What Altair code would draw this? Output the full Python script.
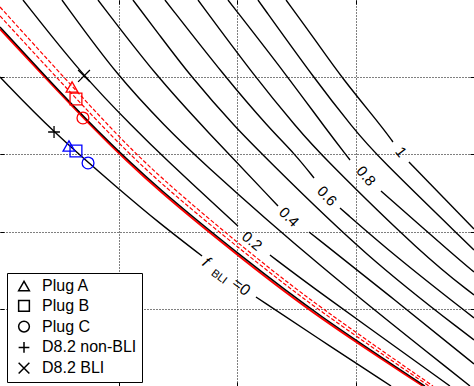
import altair as alt
import pandas as pd

# ---------------- data (axis units: x 0..4, y 0..5) -------------
# contour lines of f_BLI; *_s marks the piece of the line (lines are broken at labels)
f00_x = [0.000, 0.447, 1.013, 1.333, 1.705, 2.160, 2.667, 3.300]
f00_y = [4.003, 3.290, 2.539, 2.124, 1.684, 1.153, 0.635, 0.000]
f00_s = [0, 0, 0, 0, 0, 1, 1, 1]

f01_x = [0.000, 0.388, 0.802, 1.333, 2.076, 2.667, 3.586]
f01_y = [4.650, 4.003, 3.329, 2.552, 1.632, 0.933, 0.000]
f01_s = [0, 0, 0, 0, 0, 0, 0]

f02_x = [0.194, 0.700, 1.139, 1.350, 2.008, 2.278, 2.667, 3.797]
f02_y = [5.000, 4.016, 3.329, 3.005, 2.073, 1.697, 1.244, 0.000]
f02_s = [0, 0, 0, 0, 0, 1, 1, 1]

f03_x = [0.523, 0.996, 1.418, 1.629, 2.667, 3.966]
f03_y = [5.000, 4.003, 3.329, 3.005, 1.580, 0.000]
f03_s = [0, 0, 0, 0, 0, 0]

f04_x = [0.827, 1.325, 1.730, 2.346, 2.608, 3.291, 4.000]
f04_y = [5.000, 4.003, 3.329, 2.332, 1.995, 1.166, 0.285]
f04_s = [0, 0, 0, 0, 1, 1, 1]

f05_x = [1.122, 1.333, 1.612, 2.000, 2.211, 3.089, 4.000]
f05_y = [5.000, 4.573, 4.003, 3.329, 3.005, 1.671, 0.596]
f05_s = [0, 0, 0, 0, 0, 0, 0]

f06_x = [1.392, 1.899, 2.278, 2.489, 2.650, 2.869, 3.342, 4.000]
f06_y = [5.000, 4.003, 3.329, 3.005, 2.694, 2.306, 1.671, 0.881]
f06_s = [0, 0, 0, 0, 0, 1, 1, 1]

f07_x = [1.671, 2.152, 2.515, 2.700, 3.586, 4.000]
f07_y = [5.000, 4.003, 3.329, 3.005, 1.671, 1.179]
f07_s = [0, 0, 0, 0, 0, 0]

f08_x = [1.924, 2.430, 2.751, 2.954, 3.215, 3.848, 4.000]
f08_y = [5.000, 4.003, 3.329, 2.927, 2.526, 1.671, 1.477]
f08_s = [0, 0, 0, 0, 1, 1, 1]

f09_x = [2.177, 2.667, 2.987, 3.165, 4.000]
f09_y = [5.000, 3.951, 3.329, 3.005, 1.762]
f09_s = [0, 0, 0, 0, 0]

f10_x = [2.414, 2.667, 2.878, 3.232, 3.316, 3.451, 4.000]
f10_y = [5.000, 4.469, 4.003, 3.342, 3.161, 2.902, 2.034]
f10_s = [0, 0, 0, 0, 0, 1, 1]

# red solid line and the two red dashed lines
red_x = [0.000, 0.802, 1.333, 2.076, 2.667, 3.570]
red_y = [4.624, 3.303, 2.526, 1.606, 0.907, 0.000]
dash1_x = [0.000, 0.911, 1.333, 2.076, 2.667, 3.654]
dash1_y = [4.909, 3.368, 2.720, 1.762, 1.049, 0.000]
dash2_x = [0.000, 0.861, 1.333, 2.076, 2.667, 3.620]
dash2_y = [4.793, 3.355, 2.642, 1.710, 0.997, 0.000]

# design points
mk_name = ["Plug A", "Plug B", "Plug C", "D8.2 BLI",
           "Plug A", "Plug B", "Plug C", "D8.2 non-BLI"]
mk_case = ["BLI", "BLI", "BLI", "D8.2", "non-BLI", "non-BLI", "non-BLI", "D8.2"]
mk_x = [0.608, 0.641, 0.700, 0.709, 0.582, 0.641, 0.743, 0.456]
mk_y = [3.873, 3.718, 3.472, 4.016, 3.109, 3.044, 2.889, 3.290]

legend_names = ["Plug A", "Plug B", "Plug C", "D8.2 non-BLI", "D8.2 BLI"]

# contour labels
lab_text = ["0.2", "0.4", "0.6", "0.8", "1"]
lab_x = [2.127, 2.439, 2.759, 3.089, 3.384]
lab_y = [1.878, 2.189, 2.461, 2.720, 3.031]
lab_angle = [40, 45, 47, 50, 52]

# "f_BLI =0" label parts
f_lab_x = [1.738, 1.848, 2.034]
f_lab_y = [1.606, 1.412, 1.282]

x_ticks = [1, 2, 3]
y_ticks = [1, 2, 3, 4]

# ---------------------------------------------------------------------------------------
FONT = "Liberation Sans"

lines = [("0", f00_x, f00_y, f00_s), ("0.1", f01_x, f01_y, f01_s),
         ("0.2", f02_x, f02_y, f02_s), ("0.3", f03_x, f03_y, f03_s),
         ("0.4", f04_x, f04_y, f04_s), ("0.5", f05_x, f05_y, f05_s),
         ("0.6", f06_x, f06_y, f06_s), ("0.7", f07_x, f07_y, f07_s),
         ("0.8", f08_x, f08_y, f08_s), ("0.9", f09_x, f09_y, f09_s),
         ("1", f10_x, f10_y, f10_s)]
contours = pd.concat([
    pd.DataFrame({"seg": [f"{lv}-{s}" for s in ss], "x": xs, "y": ys})
    for lv, xs, ys, ss in lines
], ignore_index=True)

red_df = pd.DataFrame({"x": red_x, "y": red_y})
dash_df = pd.concat([
    pd.DataFrame({"k": "d1", "x": dash1_x, "y": dash1_y}),
    pd.DataFrame({"k": "d2", "x": dash2_x, "y": dash2_y}),
], ignore_index=True)
mk_df = pd.DataFrame({"name": mk_name, "case": mk_case, "x": mk_x, "y": mk_y})

xsc = alt.Scale(domain=[0, 4], nice=False, zero=False)
ysc = alt.Scale(domain=[0, 5], nice=False, zero=False)


def axis(orient, values, grid):
    return alt.Axis(orient=orient, values=values, grid=grid, gridDash=[1, 2],
                    gridColor="#000000", gridOpacity=1, gridWidth=1,
                    labels=False, domain=False, ticks=True, tickSize=4,
                    tickColor="#000000", tickWidth=1, offset=-4, title=None)


X0 = alt.X("x:Q", scale=xsc, axis=None)
Y0 = alt.Y("y:Q", scale=ysc, axis=None)

red_layer = alt.Chart(red_df).mark_line(
    color="#ff0000", strokeWidth=2.0, interpolate="basis", clip=True
).encode(
    x=alt.X("x:Q", scale=xsc, axis=axis("bottom", x_ticks, True)),
    y=alt.Y("y:Q", scale=ysc, axis=axis("left", y_ticks, True)),
)

dash_layer = alt.Chart(dash_df).mark_line(
    color="#ff0000", strokeWidth=1.2, strokeDash=[4, 2], interpolate="basis", clip=True
).encode(x=X0, y=Y0, detail="k:N")

contour_layer = alt.Chart(contours).mark_line(
    color="black", strokeWidth=1.4, interpolate="basis", clip=True
).encode(x=X0, y=Y0, detail="seg:N")

shape_range = ["triangle-up", "square", "circle",
               "M-1,0L1,0M0,-1L0,1", "M-1,-1L1,1M-1,1L1,-1"]

marker_layer = alt.Chart(mk_df).mark_point(
    filled=False, strokeWidth=1.3, size=140, clip=True, opacity=1
).encode(
    x=alt.X("x:Q", scale=xsc, axis=axis("top", x_ticks, False)),
    y=alt.Y("y:Q", scale=ysc, axis=axis("right", y_ticks, False)),
    shape=alt.Shape("name:N", scale=alt.Scale(domain=legend_names, range=shape_range),
                    legend=alt.Legend(
                        title=None, orient="none", legendX=7, legendY=273,
                        direction="vertical", strokeColor="black", fillColor="white",
                        padding=5, labelFont=FONT, labelFontSize=16, labelColor="black",
                        symbolStrokeColor="black", symbolFillColor="white",
                        symbolStrokeWidth=1.5, symbolSize=115, symbolOffset=4,
                        labelOffset=10, rowPadding=2.8, labelLimit=0)),
    color=alt.Color("case:N", scale=alt.Scale(domain=["BLI", "non-BLI", "D8.2"],
                                               range=["#ff0000", "#0000ff", "#000000"]),
                    legend=None),
)

label_layers = []
for t, x, y, a in zip(lab_text, lab_x, lab_y, lab_angle):
    label_layers.append(
        alt.Chart(pd.DataFrame({"t": [t], "x": [x], "y": [y]})).mark_text(
            angle=a, font=FONT, fontSize=15, color="black", align="center", baseline="middle"
        ).encode(x=X0, y=Y0, text="t:N")
    )

f_parts = [("f", 16, "italic"), ("BLI", 11, "normal"), ("=0", 16, "normal")]
for (t, fs, st), x, y in zip(f_parts, f_lab_x, f_lab_y):
    label_layers.append(
        alt.Chart(pd.DataFrame({"t": [t], "x": [x], "y": [y]})).mark_text(
            angle=37, font=FONT, fontSize=fs, fontStyle=st, color="black",
            align="center", baseline="middle"
        ).encode(x=X0, y=Y0, text="t:N")
    )

chart = alt.layer(
    red_layer, dash_layer, contour_layer, *label_layers, marker_layer
).resolve_axis(x="independent", y="independent").properties(
    width=474, height=386, padding=0,
    autosize=alt.AutoSizeParams(type="none"),
    background="white",
).configure_view(stroke=None)

chart.save("out.html", embed_options={"renderer": "svg", "actions": False})
